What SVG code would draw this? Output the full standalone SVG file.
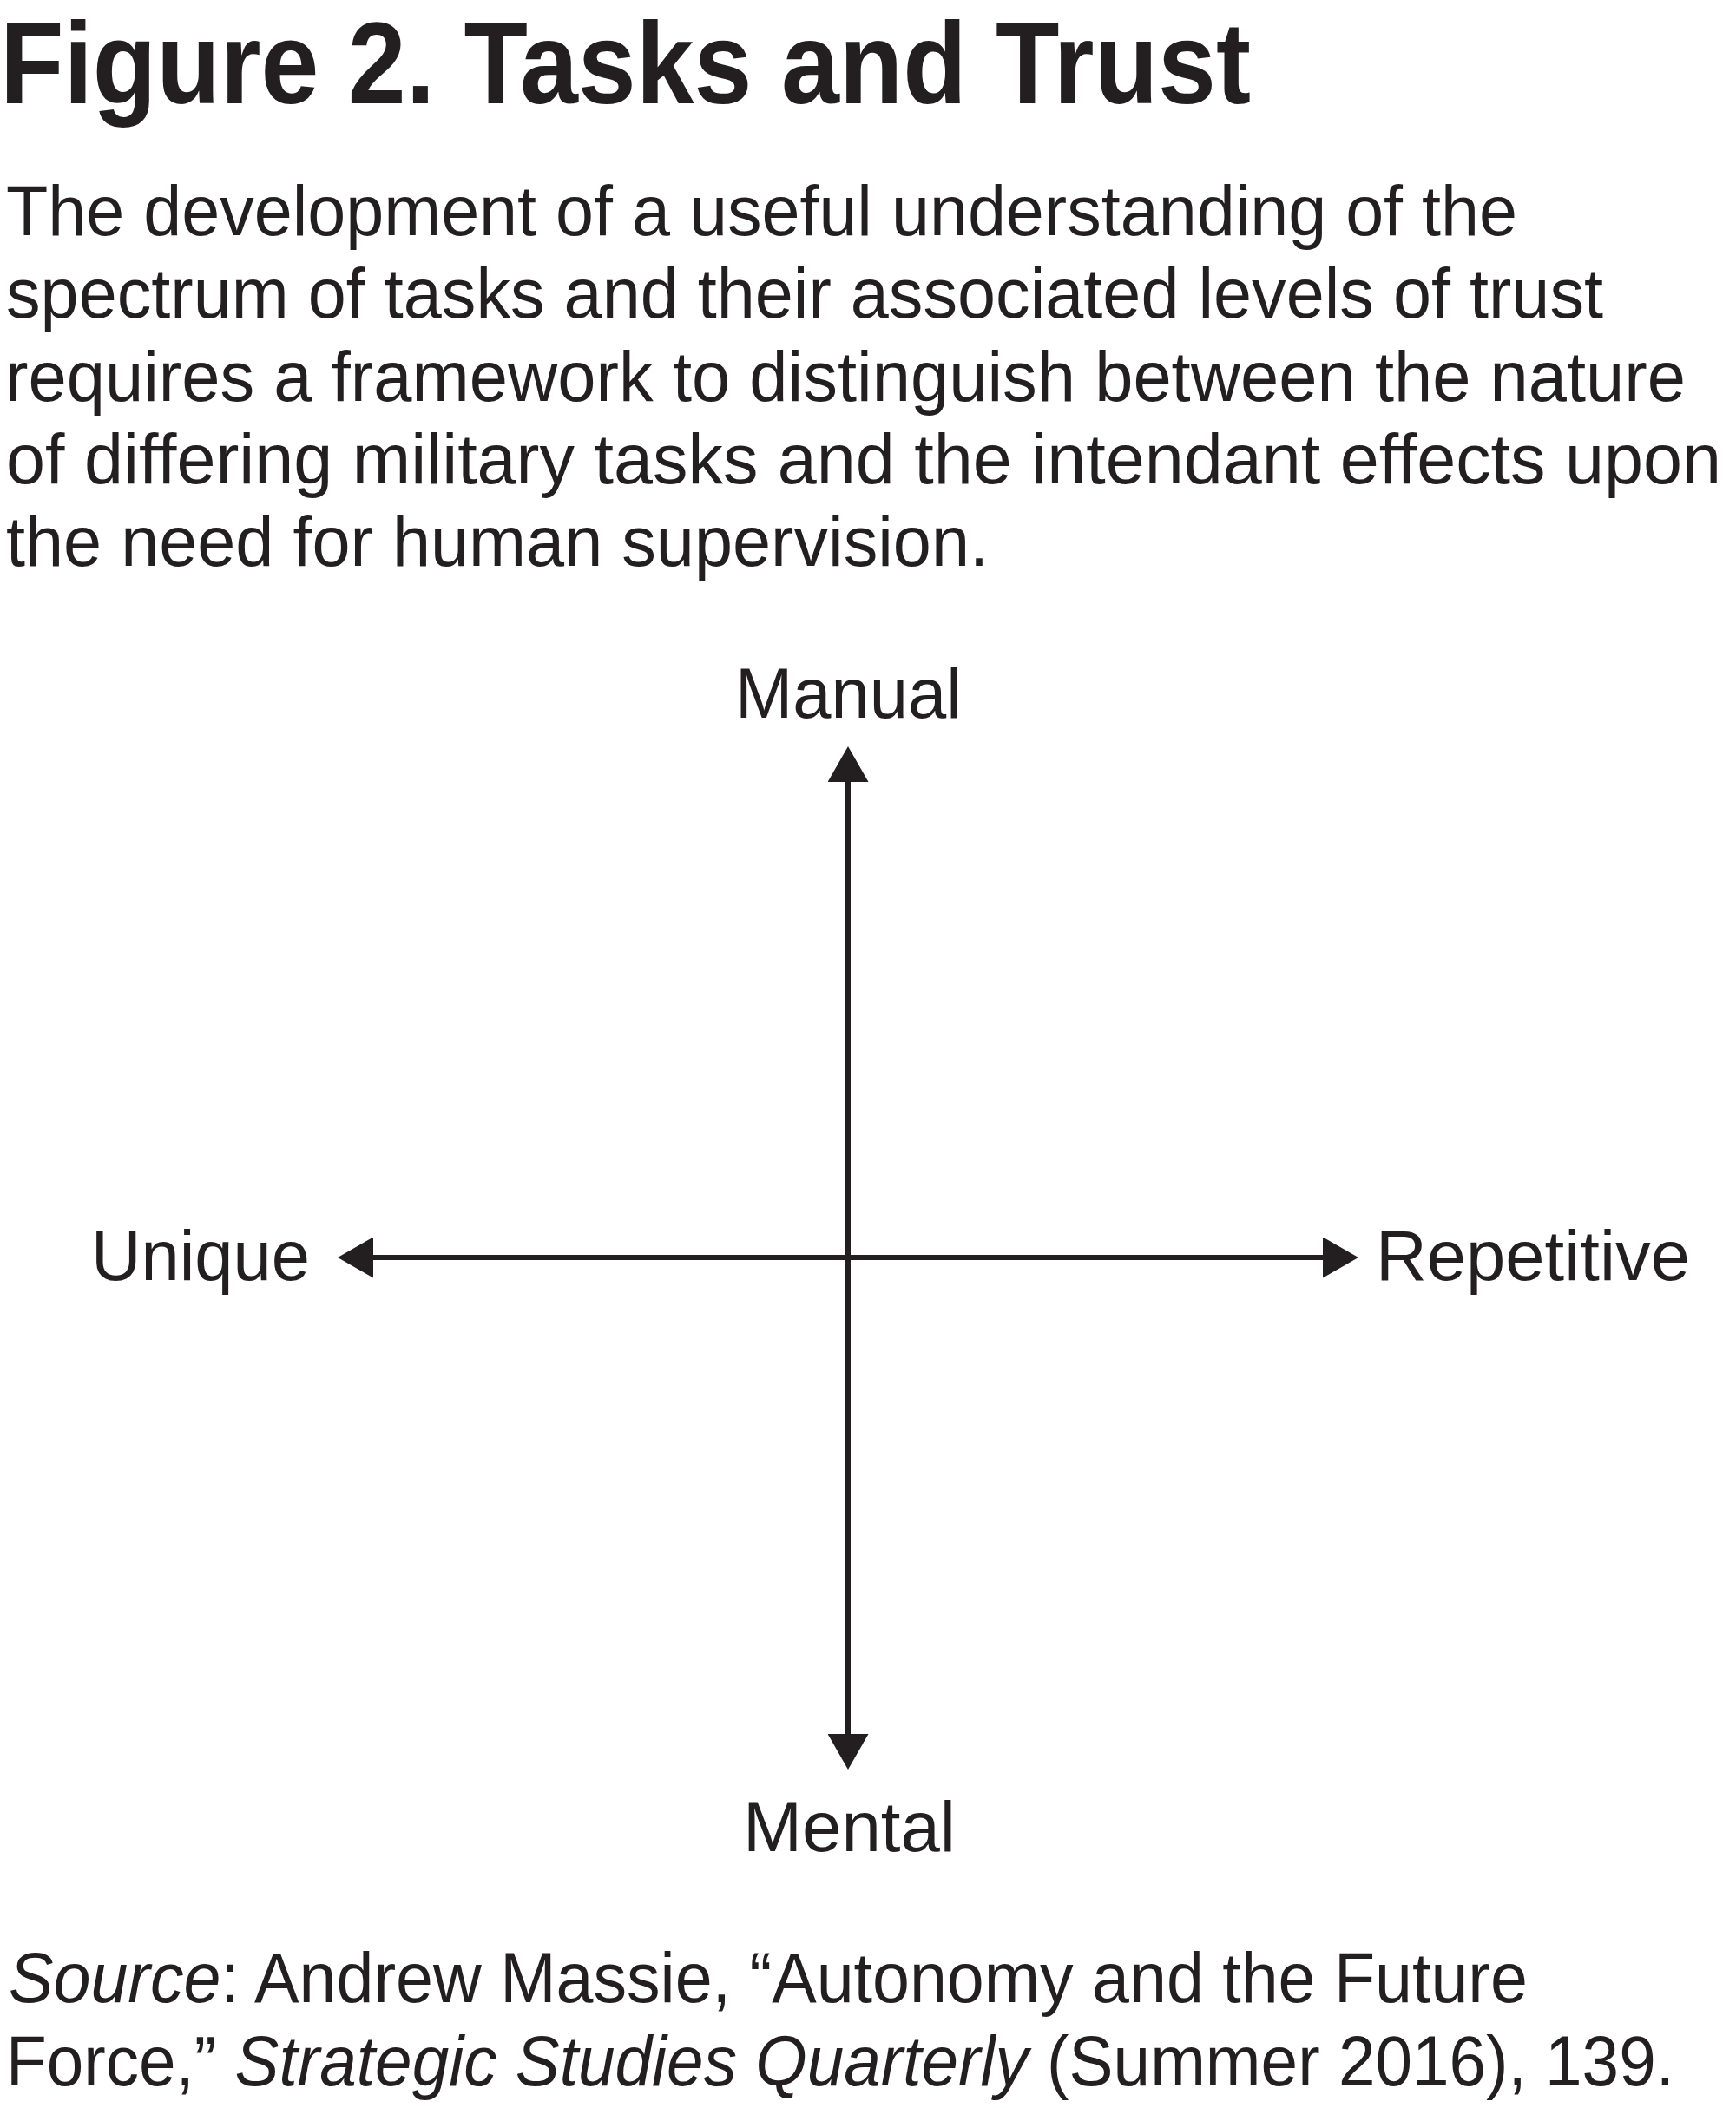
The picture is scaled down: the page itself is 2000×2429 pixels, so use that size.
<svg xmlns="http://www.w3.org/2000/svg" width="2000" height="2429" viewBox="0 0 2000 2429">
  <style>
    text { font-family: "Liberation Sans", Arial, sans-serif; fill: #231f20; }
    .title { font-size: 134px; font-weight: bold; }
    .body { font-size: 81px; }
    .label { font-size: 81px; }
    .axis { stroke: #231f20; stroke-width: 6; fill: none; }
  </style>
  <defs>
    <marker id="arrow" viewBox="0 0 41 47" refX="0" refY="23.5" markerWidth="41" markerHeight="47" markerUnits="userSpaceOnUse" orient="auto-start-reverse">
      <path d="M0,0 L41,23.5 L0,47 Z" fill="#231f20"/>
    </marker>
  </defs>
  <rect width="2000" height="2429" fill="#ffffff"/>

  <g id="title">
    <text class="title" x="0" y="119" textLength="1441" lengthAdjust="spacingAndGlyphs">Figure 2. Tasks and Trust</text>
  </g>

  <g id="description">
    <text class="body" x="7" y="271" textLength="1741" lengthAdjust="spacingAndGlyphs">The development of a useful understanding of the</text>
    <text class="body" x="7" y="366" textLength="1840" lengthAdjust="spacingAndGlyphs">spectrum of tasks and their associated levels of trust</text>
    <text class="body" x="6" y="462" textLength="1936" lengthAdjust="spacingAndGlyphs">requires a framework to distinguish between the nature</text>
    <text class="body" x="7" y="557" textLength="1976" lengthAdjust="spacingAndGlyphs">of differing military tasks and the intendant effects upon</text>
    <text class="body" x="7" y="652" textLength="1132" lengthAdjust="spacingAndGlyphs">the need for human supervision.</text>
  </g>

  <g id="connectors">
    <line class="axis" x1="977" y1="901" x2="977" y2="1998" marker-start="url(#arrow)" marker-end="url(#arrow)"/>
    <line class="axis" x1="430" y1="1449" x2="1524" y2="1449" marker-start="url(#arrow)" marker-end="url(#arrow)"/>
  </g>

  <g id="node-manual">
    <text class="label" x="847" y="827" textLength="261" lengthAdjust="spacingAndGlyphs">Manual</text>
  </g>
  <g id="node-unique">
    <text class="label" x="105" y="1475" textLength="252" lengthAdjust="spacingAndGlyphs">Unique</text>
  </g>
  <g id="node-repetitive">
    <text class="label" x="1585" y="1475" textLength="362" lengthAdjust="spacingAndGlyphs">Repetitive</text>
  </g>
  <g id="node-mental">
    <text class="label" x="856" y="2133" textLength="245" lengthAdjust="spacingAndGlyphs">Mental</text>
  </g>

  <g id="source">
    <text class="body" x="10" y="2307" textLength="1750" lengthAdjust="spacingAndGlyphs"><tspan font-style="italic">Source</tspan>: Andrew Massie, “Autonomy and the Future</text>
    <text class="body" x="7" y="2403" textLength="1922" lengthAdjust="spacingAndGlyphs">Force,” <tspan font-style="italic">Strategic Studies Quarterly</tspan> (Summer 2016), 139.</text>
  </g>
</svg>
